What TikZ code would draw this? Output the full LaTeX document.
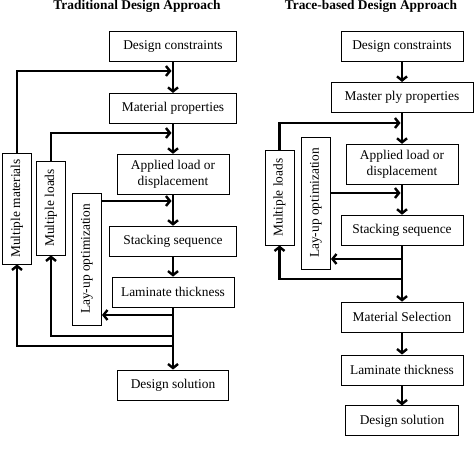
\documentclass[tikz,border=0pt]{standalone}
\usepackage{fontspec}
\setmainfont{Liberation Serif}
\usetikzlibrary{positioning, arrows.meta}

\begin{document}
\begin{tikzpicture}[
    x=1pt, y=1pt,
    node distance=30pt,
    stepbox/.style={rectangle, draw, line width=0.9pt, align=center, minimum height=30pt, inner sep=3pt, font=\fontsize{13.4}{16.5}\selectfont},
    loopbox/.style={rectangle, draw, line width=0.9pt, rotate=90, minimum height=29pt, inner sep=2pt, font=\fontsize{13.4}{16.5}\selectfont},
    heading/.style={font=\fontsize{13.4}{16}\selectfont\bfseries},
    arrow/.style={-{Straight Barb[length=4pt,width=10pt]}, line width=2.4pt}
]
\useasboundingbox (0,0) rectangle (474,-454);

% Traditional approach
\node[heading] (ttitle) at (137,-6) {Traditional Design Approach};
\node[stepbox, minimum width=127pt] (tdc) at (173,-46.5) {Design constraints};
\node[stepbox, minimum width=127pt, below=31pt of tdc] (tmp) {Material properties};
\node[stepbox, minimum width=112pt, minimum height=40pt, below=30pt of tmp] (tald) {Applied load or\\displacement};
\node[stepbox, minimum width=127pt, below=31pt of tald] (tss) {Stacking sequence};
\node[stepbox, minimum width=122pt, below=20pt of tss] (tlt) {Laminate thickness};
\node[stepbox, minimum width=111pt, below=62pt of tlt] (tds) {Design solution};

\node[loopbox, minimum width=111pt] (tmm) at (17,-208.5) {Multiple materials};
\node[loopbox, minimum width=94pt] (tml) at (51,-208) {Multiple loads};
\node[loopbox, minimum width=132pt] (tlo) at (87,-259) {Lay-up optimization};

\coordinate (tj1) at (171.5,-71);
\coordinate (tj2) at (171.5,-133);
\coordinate (tj3) at (171.5,-201);
\coordinate (tk1) at (173,-315);
\coordinate (tk2) at (173,-336);
\coordinate (tk3) at (173,-346);

% Trace-based approach
\node[heading] (rtitle) at (371,-6) {Trace-based Design Approach};
\node[stepbox, minimum width=122pt] (rdc) at (402,-46.5) {Design constraints};
\node[stepbox, minimum width=142pt, below=20pt of rdc] (rmp) {Master ply properties};
\node[stepbox, minimum width=112pt, minimum height=40pt, below=31pt of rmp] (rald) {Applied load or\\displacement};
\node[stepbox, minimum width=122pt, below=30pt of rald] (rss) {Stacking sequence};
\node[stepbox, minimum width=122pt, below=56pt of rss] (rms) {Material Selection};
\node[stepbox, minimum width=122pt, below=22pt of rms] (rlt) {Laminate thickness};
\node[stepbox, minimum width=113pt, below=20pt of rlt] (rds) {Design solution};

\node[loopbox, minimum width=95pt] (rml) at (279.5,-197.5) {Multiple loads};
\node[loopbox, minimum width=132pt] (rlo) at (316,-203) {Lay-up optimization};

\coordinate (rj1) at (400.5,-123);
\coordinate (rj2) at (400.5,-193);
\coordinate (rk1) at (402,-259);
\coordinate (rk2) at (402,-279);

% Main flow
\draw[arrow] (tdc) -- (tmp);
\draw[arrow] (tmp) -- (tald);
\draw[arrow] (tald) -- (tss);
\draw[arrow] (tss) -- (tlt);
\draw[arrow] (tlt) -- (tds);

\draw[arrow] (rdc) -- (rmp);
\draw[arrow] (rmp) -- (rald);
\draw[arrow] (rald) -- (rss);
\draw[arrow] (rss) -- (rms);
\draw[arrow] (rms) -- (rlt);
\draw[arrow] (rlt) -- (rds);

% Loops
\draw[arrow] (tmm.east) |- (tj1);
\draw[arrow] (tml.east) |- (tj2);
\draw[arrow] (tj3 -| tlo.south) -- (tj3);
\draw[arrow] (tk1) -- (tk1 -| tlo.south);
\draw[arrow] (tk2) -| (tml.west);
\draw[arrow] (tk3) -| (tmm.west);

\draw[arrow] (rml.east) |- (rj1);
\draw[arrow] (rj2 -| rlo.south) -- (rj2);
\draw[arrow] (rk1) -- (rk1 -| rlo.south);
\draw[arrow] (rk2) -| (rml.west);

\end{tikzpicture}
\end{document}
